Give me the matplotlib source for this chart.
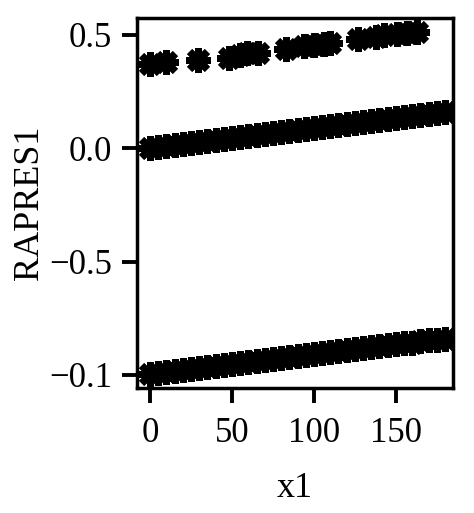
import matplotlib
matplotlib.use("Agg")
import matplotlib.pyplot as plt
import numpy as np

plt.rcParams.update({'font.family': 'Liberation Serif',
                     'font.size': 25,
                     'axes.linewidth': 2.5,
                     'xtick.major.width': 2.8,
                     'ytick.major.width': 2.8,
                     'xtick.major.size': 11,
                     'ytick.major.size': 11,
                     'xtick.major.pad': 10,
                     'ytick.major.pad': 7})

# upper sparse group of residuals
x_top = [0, 10, 29, 48, 55, 59, 66, 83, 94, 100, 106, 110, 127, 138, 143, 151, 157, 163]
y_top = [0.37, 0.38, 0.39, 0.40, 0.41, 0.42, 0.42, 0.44, 0.45, 0.455, 0.46, 0.465,
         0.48, 0.49, 0.50, 0.505, 0.51, 0.515]

# dense middle band
x_mid = [0, 5, 10, 15, 20, 25, 30, 35, 40, 45, 50, 55, 60, 65, 70, 75, 80, 85, 90,
         95, 100, 105, 110, 115, 120, 125, 130, 135, 140, 145, 150, 155, 160, 165,
         170, 175, 180]
y_mid = [0.000, 0.004, 0.009, 0.013, 0.018, 0.022, 0.027, 0.031, 0.036, 0.040,
         0.044, 0.049, 0.053, 0.058, 0.062, 0.067, 0.071, 0.076, 0.080, 0.084,
         0.089, 0.093, 0.098, 0.102, 0.107, 0.111, 0.116, 0.120, 0.124, 0.129,
         0.133, 0.138, 0.142, 0.147, 0.151, 0.156, 0.160]

# dense lower band
x_low = x_mid
y_low = [-0.995, -0.991, -0.987, -0.982, -0.978, -0.974, -0.969, -0.965, -0.961,
         -0.956, -0.952, -0.948, -0.943, -0.939, -0.935, -0.930, -0.926, -0.922,
         -0.917, -0.913, -0.909, -0.904, -0.900, -0.896, -0.891, -0.887, -0.883,
         -0.878, -0.874, -0.870, -0.865, -0.861, -0.857, -0.852, -0.848, -0.844,
         -0.840]

xticks = [0, 50, 100, 150]
yticks = [0.5, 0.0, -0.5, -1.0]
ytick_labels = ["0.5", "0.0", "\u22120.5", "\u22120.1"]

fig = plt.figure(figsize=(4.74, 5.13), dpi=100)
ax = fig.add_axes([0.289, 0.244, 0.667, 0.721])

for xs, ys in [(x_top, y_top), (x_mid, y_mid), (x_low, y_low)]:
    ax.plot(xs, ys, ls="none", marker=(8, 2, 0), ms=18, mew=5, color="black")

ax.set_xlim(-8, 185)
ax.set_ylim(-1.057, 0.575)
ax.set_xticks(xticks)
ax.set_yticks(yticks)
ax.set_yticklabels(ytick_labels)
ax.set_xlabel("x1", labelpad=16, fontsize=26)
ax.set_ylabel("RAPRES1", labelpad=2, fontsize=26)

fig.savefig("out.png")
